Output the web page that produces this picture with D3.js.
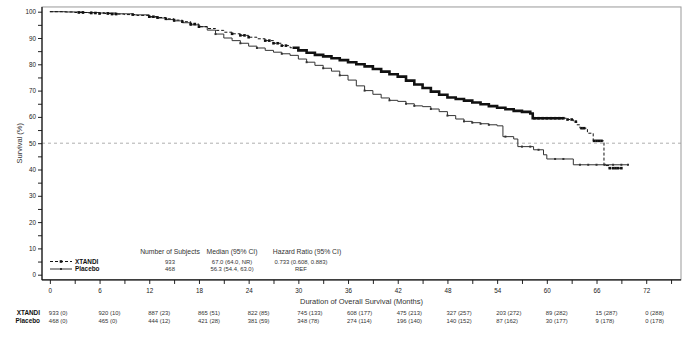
<!DOCTYPE html>
<html><head><meta charset="utf-8">
<script src="https://cdn.jsdelivr.net/npm/d3@7"></script>
<style>body{margin:0;background:#fff}svg{display:block;font-family:"Liberation Sans",Arial,sans-serif}</style>
</head><body><svg id="c" width="690" height="340"></svg>
<script>
// ---- data ----
const groups = ["XTANDI", "Placebo"];
const xtandiSteps = [[0,100],[1.5,99.9],[3,99.7],[4.5,99.5],[6,99.3],[7.5,99.1],[9,98.9],[10.5,98.6],[12,98.1],[13,97.8],[14,97.3],[15,96.8],[16,96.2],[17,95.3],[18,94.3],[19,93.6],[20,92.9],[21,92.2],[22,91.6],[23,91],[24,90.3],[25,89.7],[26,89],[27,88],[28,87.1],[29,86.3],[30,85.3],[31,84.4],[32,83.6],[33,83],[34,82.3],[35,81.6],[36,80.8],[37,80],[38,79.2],[39,78.2],[40,77.2],[41,76.2],[42,75.3],[43,73.8],[44,72.3],[45,71],[46,69.6],[47,68.4],[48,67.4],[49,66.8],[50,66.2],[51,65.5],[52,64.8],[53,64.1],[54,63.5],[55,62.9],[56,62.3],[57,61.9],[58,61.3],[58.3,59.5],[62.5,59],[63.2,58.2],[63.6,57],[64,55.7],[64.9,53.8],[65.6,50.9],[66.9,41.5],[67.5,40.5],[69.1,40.5]];
const placeboSteps = [[0,100],[2,99.9],[4,99.7],[6,99.5],[8,99.2],[10,98.8],[12,98],[13,97.6],[14,97],[15,96.5],[16,95.8],[17,95],[18,94.3],[19,93],[20,91.5],[21,90],[22,89],[23,88],[24,86.9],[25,86.2],[26,85.3],[27,84.6],[28,84],[29,83.4],[30,82],[31,80.8],[32,79.6],[33,78.5],[34,77.4],[35,75.8],[36,74],[37,71.8],[38,70],[39,68.6],[40,67.2],[41,66.3],[42,65.9],[43,65],[44,64.2],[45,63.9],[46,63],[47,62],[48,60.5],[49,59.2],[50,58.3],[51,57.8],[52,57.4],[53,57],[54,56.6],[54.7,52.5],[56,51.6],[56.5,48.7],[58.4,47.5],[59.6,45.6],[60,44],[63.2,41.8],[69.8,41.8]];
const xtandiCensor = [3.5,4,5,5.5,6,7,7.5,8,10,12,12.5,13,14,15,16,17,17.5,18,22,23,23.5,24,26,26.5,27,27.5,28,28.5,58.5,59,59.5,60,60.5,61,61.5,62,62.5,63,63.5,64.2,64.5,65.7,66,66.3,66.6,67.6,68,68.3,68.6,69];
const xtandiDenseCensor = [29.3, 62];
const placeboCensor = [4,5,6.5,7,8,13,15,17,20,23,25,28,31,33,35,38,41,43,44,46,48,50,51,52,53,55,57,58,59,61,62,64,65,66,67,68,69,69.8];
const xTicks = [0,6,12,18,24,30,36,42,48,54,60,66,72];
const yTicks = [0,10,20,30,40,50,60,70,80,90,100];
const summaryHeaders = ["Number of Subjects","Median (95% CI)","Hazard Ratio (95% CI)"];
const nSubjects = ["933","468"];
const medians = ["67.0 (64.0, NR)","56.3 (54.4, 63.0)"];
const hazardRatios = ["0.733 (0.608, 0.883)","REF"];
const atRiskXtandi = ["933 (0)","920 (10)","887 (23)","865 (51)","822 (85)","745 (133)","608 (177)","475 (213)","327 (257)","203 (272)","89 (282)","15 (287)","0 (288)"];
const atRiskPlacebo = ["468 (0)","465 (0)","444 (12)","421 (28)","381 (59)","348 (78)","274 (114)","196 (140)","140 (152)","87 (162)","30 (177)","9 (178)","0 (178)"];

// ---- layout ----
const svg = d3.select("#c");
const x = d3.scaleLinear().domain([-0.95, 76.2]).range([42, 681]);
const y = d3.scaleLinear().domain([0, 100]).range([274.7, 11.7]);
const yBot = y(-2.0), yTop = y(101.8);

function survAt(steps, t){ let v = steps[0][1]; for(const s of steps){ if(s[0] <= t) v = s[1]; } return v; }

// frame
svg.append("rect").attr("x", x(-0.95)).attr("y", yTop).attr("width", x(76.2)-x(-0.95)).attr("height", yBot-yTop)
  .attr("fill","none").attr("stroke","#999").attr("stroke-width",1);
// reference line
svg.append("line").attr("x1", x(-0.95)).attr("x2", x(76.2)).attr("y1", y(50)).attr("y2", y(50))
  .attr("stroke","#999").attr("stroke-width",0.8).attr("stroke-dasharray","3,3");

// axes
const minorX = d3.range(3, 76, 6);
const xAxis = svg.append("g").attr("transform",`translate(0,${yBot})`);
xAxis.call(d3.axisBottom(x).tickValues(xTicks).tickSize(4).tickSizeOuter(0).tickFormat(d3.format("d")));
xAxis.append("g").call(d3.axisBottom(x).tickValues(minorX).tickSize(4).tickFormat(""));
xAxis.selectAll(".domain").remove();
xAxis.selectAll("text").attr("font-size", 6.3).attr("dy","0.9em").attr("fill","#222");
xAxis.selectAll("line").attr("stroke","#222");

const minorY = d3.range(5, 100, 10);
const yAxis = svg.append("g").attr("transform",`translate(${x(-0.95)},0)`);
yAxis.call(d3.axisLeft(y).tickValues(yTicks).tickSize(4).tickSizeOuter(0).tickFormat(d3.format("d")));
yAxis.append("g").call(d3.axisLeft(y).tickValues(minorY).tickSize(4).tickFormat(""));
yAxis.selectAll(".domain").remove();
yAxis.selectAll("text").attr("font-size", 6.3).attr("fill","#222").attr("x",-6);
yAxis.selectAll("line").attr("stroke","#222");
// axis lines
svg.append("line").attr("x1",x(-0.95)).attr("x2",x(-0.95)).attr("y1",yTop).attr("y2",yBot).attr("stroke","#111").attr("stroke-width",1.2);
svg.append("line").attr("x1",x(-0.95)).attr("x2",x(76.2)).attr("y1",yBot).attr("y2",yBot).attr("stroke","#111").attr("stroke-width",1.2);

// axis titles
svg.append("text").attr("transform",`translate(22,${y(50)}) rotate(-90)`).attr("text-anchor","middle")
  .attr("font-size",7.5).attr("fill","#333").text("Survival (%)");
svg.append("text").attr("x", (x(-0.95)+x(76.2))/2).attr("y", 304).attr("text-anchor","middle")
  .attr("font-size",7.5).attr("fill","#333").text("Duration of Overall Survival (Months)");

// curves
const line = d3.line().x(d=>x(d[0])).y(d=>y(d[1])).curve(d3.curveStepAfter);
svg.append("path").datum(placeboSteps).attr("d", line).attr("fill","none").attr("stroke","#333").attr("stroke-width",1);
svg.append("path").datum(xtandiSteps).attr("d", line).attr("fill","none").attr("stroke","#111").attr("stroke-width",1).attr("stroke-dasharray","3,2");
// dense censoring region drawn as heavy band
const dense = xtandiSteps.filter(d=>d[0]>=xtandiDenseCensor[0] && d[0]<=xtandiDenseCensor[1]);
const denseData = [[xtandiDenseCensor[0], survAt(xtandiSteps, xtandiDenseCensor[0])], ...dense, [xtandiDenseCensor[1], survAt(xtandiSteps, xtandiDenseCensor[1])]];
svg.append("path").datum(denseData).attr("d", line).attr("fill","none").attr("stroke","#111").attr("stroke-width",2.6);

// censor marks
svg.append("g").selectAll("rect").data(placeboCensor).join("rect")
  .attr("x", d=>x(d)-1).attr("y", d=>y(survAt(placeboSteps,d))-1).attr("width",2).attr("height",2).attr("fill","#333");
svg.append("g").selectAll("rect").data(xtandiCensor).join("rect")
  .attr("x", d=>x(d)-1.3).attr("y", d=>y(survAt(xtandiSteps,d))-1.3).attr("width",2.6).attr("height",2.6).attr("fill","#111");

// legend
const legY = [261.5, 269];
svg.append("line").attr("x1",50).attr("x2",72).attr("y1",legY[0]).attr("y2",legY[0]).attr("stroke","#111").attr("stroke-dasharray","3,2");
svg.append("rect").attr("x",59.7).attr("y",legY[0]-1.3).attr("width",2.6).attr("height",2.6).attr("fill","#111");
svg.append("line").attr("x1",50).attr("x2",72).attr("y1",legY[1]).attr("y2",legY[1]).attr("stroke","#333");
svg.append("rect").attr("x",60).attr("y",legY[1]-1).attr("width",2).attr("height",2).attr("fill","#333");
groups.forEach((g,i)=>{
  svg.append("text").attr("x",75).attr("y",legY[i]+2.3).attr("font-size",6.4).attr("font-weight","bold").attr("fill","#111").text(g);
});
// summary table
const colX = [170, 232, 307];
const valX = [170, 232, 301];
summaryHeaders.forEach((h,i)=>{
  svg.append("text").attr("x",colX[i]).attr("y",254).attr("text-anchor","middle").attr("font-size",6.8).attr("fill","#333").text(h);
});
[nSubjects, medians, hazardRatios].forEach((col,ci)=>{
  col.forEach((v,ri)=>{
    svg.append("text").attr("x",valX[ci]).attr("y",legY[ri]+2.1).attr("text-anchor","middle").attr("font-size",5.9).attr("fill","#333").text(v);
  });
});

// at-risk table
const riskY = [313, 320.5];
groups.forEach((g,i)=>{
  svg.append("text").attr("x",40).attr("y",riskY[i]+2.3).attr("text-anchor","end").attr("font-size",6.4).attr("font-weight","bold").attr("fill","#111").text(g);
});
[atRiskXtandi, atRiskPlacebo].forEach((row,ri)=>{
  svg.append("g").selectAll("text").data(row).join("text")
    .attr("x",(d,i)=>x(xTicks[i])-1).attr("y",riskY[ri]+2.1).attr("font-size",5.9).attr("fill","#333").text(d=>d);
});
</script></body></html>
